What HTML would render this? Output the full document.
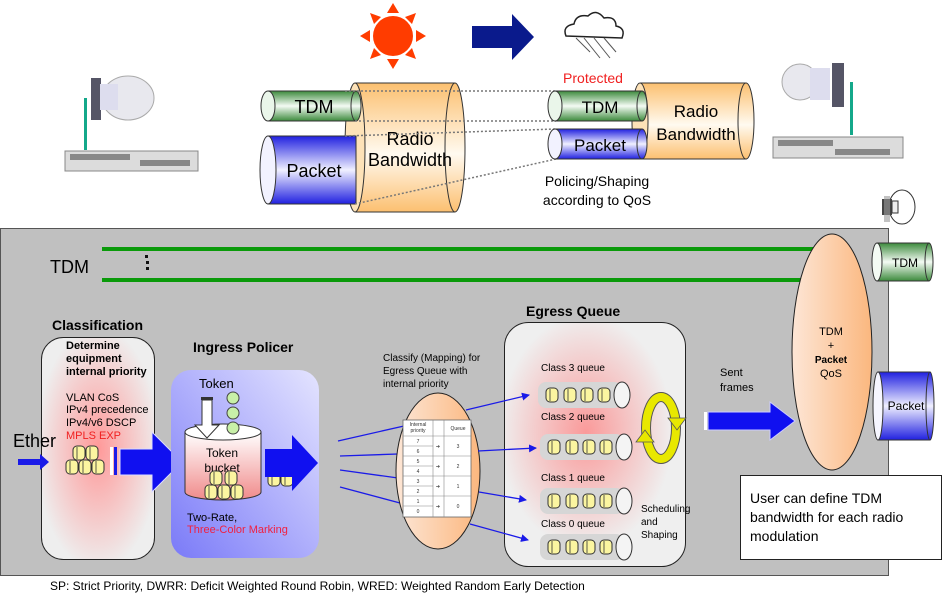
<!DOCTYPE html>
<html><head><meta charset="utf-8"><style>
html,body{margin:0;padding:0;background:#fff;}
svg{display:block;font-family:"Liberation Sans",Arial,sans-serif;}
</style></head><body>
<svg width="944" height="602" viewBox="0 0 944 602" xmlns="http://www.w3.org/2000/svg">
<defs>
<linearGradient id="gG" x1="0" y1="0" x2="0" y2="1"><stop offset="0" stop-color="#3c8a3c"/><stop offset="0.5" stop-color="#f4fbf4"/><stop offset="1" stop-color="#3c8a3c"/></linearGradient>
<linearGradient id="gB" x1="0" y1="0" x2="0" y2="1"><stop offset="0" stop-color="#2020e0"/><stop offset="0.5" stop-color="#f0f0ff"/><stop offset="1" stop-color="#2020e0"/></linearGradient>
<linearGradient id="gO" x1="0" y1="0" x2="0" y2="1"><stop offset="0" stop-color="#fcc070"/><stop offset="0.55" stop-color="#fffaf0"/><stop offset="1" stop-color="#fcc070"/></linearGradient>
<linearGradient id="gOh" x1="0" y1="0" x2="1" y2="0"><stop offset="0" stop-color="#fde6d6"/><stop offset="1" stop-color="#fbb77e"/></linearGradient>
<radialGradient id="gR" cx="0.5" cy="0.5" r="0.55"><stop offset="0" stop-color="#f99"/><stop offset="1" stop-color="#eee"/></radialGradient>
<radialGradient id="gR2" cx="0.45" cy="0.45" r="0.6"><stop offset="0" stop-color="#fa9a9a"/><stop offset="0.8" stop-color="#efefef"/></radialGradient>
<linearGradient id="gP" x1="0" y1="1" x2="1" y2="0"><stop offset="0" stop-color="#7a7af8"/><stop offset="1" stop-color="#e4e4ff"/></linearGradient>
<linearGradient id="gBk" x1="0" y1="0" x2="0" y2="1"><stop offset="0" stop-color="#fff"/><stop offset="1" stop-color="#f08a8a"/></linearGradient>
<g id="pkt"><rect x="0" y="0" width="12" height="14" rx="4" fill="#fbf5a0" stroke="#333" stroke-width="1"/><line x1="4" y1="1" x2="4" y2="13" stroke="#333" stroke-width="0.8"/></g>
<g id="q"><rect x="0" y="-13" width="84" height="26" rx="8" fill="#d6d6d6"/><use href="#pkt" x="8" y="-7"/><use href="#pkt" x="26" y="-7"/><use href="#pkt" x="43" y="-7"/><use href="#pkt" x="60" y="-7"/><ellipse cx="84" cy="0" rx="8" ry="13" fill="#f4f4f4" stroke="#333"/></g>
<marker id="ah" markerWidth="8" markerHeight="8" refX="7" refY="4" orient="auto" markerUnits="userSpaceOnUse"><path d="M0,0 L8,4 L0,8 z" fill="#1a1ae8"/></marker>
</defs>

<g fill="#ff3c00">
<circle cx="393" cy="36" r="20"/>
<path d="M393,3 l-6,10 h12z M393,69 l-6,-10 h12z M360,36 l10,-6 v12z M426,36 l-10,-6 v12z M370,13 l4,11 l7,-7z M416,13 l-4,11 l-7,-7z M370,59 l4,-11 l7,7z M416,59 l-4,-11 l-7,7z"/>
</g>
<path d="M472,26 h40 v-12 l22,23 l-22,23 v-12 h-40z" fill="#0a1a8c"/>
<path d="M566,36 q-4,-10 8,-12 q2,-10 14,-8 q8,-8 16,2 q12,-2 12,8 q10,2 6,12 z" fill="#fff" stroke="#222" stroke-width="1.5"/>
<g stroke="#555" stroke-width="1"><line x1="576" y1="38" x2="590" y2="52"/><line x1="584" y1="38" x2="600" y2="58"/><line x1="594" y1="38" x2="610" y2="58"/><line x1="604" y1="38" x2="616" y2="52"/></g>

<ellipse cx="128" cy="98" rx="26" ry="22" fill="#e8e8ee" stroke="#aaa"/>
<rect x="91" y="78" width="10" height="42" fill="#556"/>
<rect x="100" y="84" width="18" height="26" fill="#dde"/>
<rect x="84" y="98" width="3" height="52" fill="#14a88a"/>
<rect x="65" y="151" width="133" height="20" fill="#dcdcdc" stroke="#888"/>
<rect x="70" y="154" width="60" height="6" fill="#333" opacity="0.5"/><rect x="140" y="160" width="50" height="6" fill="#333" opacity="0.5"/>
<ellipse cx="800" cy="82" rx="18" ry="18" fill="#e8e8ee" stroke="#aaa"/>
<rect x="810" y="68" width="20" height="32" fill="#dde"/>
<rect x="832" y="63" width="12" height="44" fill="#556"/>
<rect x="850" y="82" width="3" height="53" fill="#14a88a"/>
<rect x="773" y="137" width="130" height="21" fill="#dcdcdc" stroke="#888"/>
<rect x="778" y="140" width="55" height="6" fill="#333" opacity="0.5"/><rect x="835" y="149" width="55" height="6" fill="#333" opacity="0.5"/>

<rect x="355" y="83" width="100" height="129" fill="url(#gO)"/>
<ellipse cx="455" cy="147.5" rx="10" ry="64.5" fill="url(#gO)" stroke="#333"/>
<line x1="355" y1="83" x2="455" y2="83" stroke="#333"/><line x1="355" y1="212" x2="455" y2="212" stroke="#333"/>
<ellipse cx="355" cy="147.5" rx="10" ry="64.5" fill="#fde2b8" stroke="#333"/>
<text x="410" y="145" font-size="18" text-anchor="middle">Radio</text>
<text x="410" y="166" font-size="18" text-anchor="middle">Bandwidth</text>
<rect x="268" y="91" width="88" height="30" fill="url(#gG)" stroke="#333"/>
<ellipse cx="356" cy="106" rx="5" ry="15" fill="url(#gG)" stroke="#333"/>
<ellipse cx="268" cy="106" rx="7" ry="15" fill="#eaf6ea" stroke="#333"/>
<text x="314" y="113" font-size="18" text-anchor="middle">TDM</text>
<rect x="268" y="136" width="88" height="68" fill="url(#gB)" stroke="#333"/>
<ellipse cx="268" cy="170" rx="8" ry="34" fill="#f2f2ff" stroke="#333"/>
<text x="314" y="177" font-size="18" text-anchor="middle">Packet</text>
<g stroke="#777" stroke-width="1.5" stroke-dasharray="2,2" fill="none">
<line x1="345" y1="91" x2="556" y2="91"/><line x1="355" y1="121" x2="556" y2="121"/>
<line x1="345" y1="136" x2="556" y2="129"/><line x1="355" y1="204" x2="556" y2="159"/>
</g>
<text x="593" y="83" font-size="14" fill="#f02020" text-anchor="middle">Protected</text>
<rect x="640" y="83" width="106" height="76" fill="url(#gO)"/>
<ellipse cx="746" cy="121" rx="8" ry="38" fill="url(#gO)" stroke="#333"/>
<line x1="640" y1="83" x2="746" y2="83" stroke="#333"/><line x1="640" y1="159" x2="746" y2="159" stroke="#333"/>
<ellipse cx="640" cy="121" rx="8" ry="38" fill="#fde2b8" stroke="#333"/>
<text x="696" y="117" font-size="17" text-anchor="middle">Radio</text>
<text x="696" y="140" font-size="17" text-anchor="middle">Bandwidth</text>
<rect x="555" y="91" width="87" height="30" fill="url(#gG)" stroke="#333"/>
<ellipse cx="642" cy="106" rx="5" ry="15" fill="url(#gG)" stroke="#333"/>
<ellipse cx="555" cy="106" rx="7" ry="15" fill="#eaf6ea" stroke="#333"/>
<text x="600" y="113" font-size="17" text-anchor="middle">TDM</text>
<rect x="555" y="129" width="87" height="30" fill="url(#gB)" stroke="#333"/>
<ellipse cx="642" cy="144" rx="5" ry="15" fill="url(#gB)" stroke="#333"/>
<ellipse cx="555" cy="144" rx="7" ry="15" fill="#f2f2ff" stroke="#333"/>
<text x="600" y="151" font-size="17" text-anchor="middle">Packet</text>
<text x="597" y="186" font-size="14" text-anchor="middle">Policing/Shaping</text>
<text x="597" y="205" font-size="14" text-anchor="middle">according to QoS</text>

<ellipse cx="902" cy="207" rx="13" ry="17" fill="#fff" stroke="#333"/>
<rect x="882" y="199" width="10" height="16" fill="#444"/><rect x="884" y="196" width="6" height="26" fill="#999" opacity="0.6"/>
<rect x="892" y="201" width="6" height="12" fill="#eee" stroke="#333"/>

<rect x="0.5" y="228.5" width="888" height="347" fill="#c0c0c0" stroke="#555"/>
<line x1="102" y1="249" x2="815" y2="249" stroke="#0a9a0a" stroke-width="4"/>
<line x1="102" y1="280" x2="815" y2="280" stroke="#0a9a0a" stroke-width="4"/>
<text x="50" y="273" font-size="18">TDM</text>
<g fill="#111"><rect x="145" y="255" width="3" height="3"/><rect x="146" y="261" width="3" height="3"/><rect x="146" y="267" width="3" height="3"/></g>

<text x="52" y="330" font-size="14" font-weight="bold">Classification</text>
<rect x="41.5" y="337.5" width="113" height="222" rx="22" fill="url(#gR)" stroke="#222"/>
<g font-size="11" font-weight="bold"><text x="66" y="349">Determine</text><text x="66" y="362">equipment</text><text x="66" y="375">internal priority</text></g>
<g font-size="11"><text x="66" y="401">VLAN CoS</text><text x="66" y="413">IPv4 precedence</text><text x="66" y="426">IPv4/v6 DSCP</text><text x="66" y="439" fill="#f02020">MPLS EXP</text></g>
<text x="13" y="447" font-size="18">Ether</text>
<path d="M18,459 h22 v-5 l9,8 l-9,8 v-5 h-22z" fill="#1a1ae8"/>
<use href="#pkt" x="73" y="446"/><use href="#pkt" x="86" y="446"/>
<use href="#pkt" x="66" y="460"/><use href="#pkt" x="79" y="460"/><use href="#pkt" x="92" y="460"/>
<rect x="110" y="447" width="3" height="28" fill="#fff"/><rect x="114" y="447" width="3" height="28" fill="#1a1ae8"/>
<path d="M120,449 h32 v-17 l30,30 l-30,30 v-17 h-32z" fill="#1010f0" stroke="#ddf" stroke-width="1"/>

<text x="193" y="352" font-size="14" font-weight="bold">Ingress Policer</text>
<rect x="171" y="370" width="148" height="188" rx="20" fill="url(#gP)"/>
<text x="199" y="388" font-size="13">Token</text>
<circle cx="233" cy="398" r="6" fill="#c8f0a8" stroke="#444"/><circle cx="233" cy="413" r="6" fill="#c8f0a8" stroke="#444"/>
<path d="M185,432 v60 a38,8 0 0 0 76,0 v-60z" fill="url(#gBk)" stroke="#333"/>
<ellipse cx="223" cy="432" rx="38" ry="8" fill="#fff" stroke="#333"/>
<rect x="201" y="397" width="12" height="3" fill="#333"/>
<path d="M202,400 h10 v25 h7 l-12,13 l-12,-13 h7z" fill="#fff" stroke="#333"/>
<circle cx="233" cy="428" r="6" fill="#c8f0a8" stroke="#444"/>
<text x="222" y="457" font-size="12" text-anchor="middle">Token</text>
<text x="222" y="472" font-size="12" text-anchor="middle">bucket</text>
<use href="#pkt" x="210" y="471"/><use href="#pkt" x="225" y="471"/>
<use href="#pkt" x="205" y="485"/><use href="#pkt" x="218" y="485"/><use href="#pkt" x="231" y="485"/>
<use href="#pkt" x="268" y="472"/><use href="#pkt" x="281" y="472"/>
<path d="M265,449 h27 v-14 l26,28 l-26,28 v-14 h-27z" fill="#1010f0"/>
<text x="187" y="521" font-size="11">Two-Rate,</text>
<text x="187" y="533" font-size="11" fill="#f02040">Three-Color Marking</text>

<text x="383" y="361" font-size="10">Classify (Mapping) for</text>
<text x="383" y="374" font-size="10">Egress Queue with</text>
<text x="383" y="387" font-size="10">internal priority</text>
<g stroke="#1a1ae8" stroke-width="1.3">
<line x1="338" y1="441" x2="404" y2="426"/><line x1="340" y1="456" x2="398" y2="454"/><line x1="340" y1="470" x2="398" y2="478"/><line x1="340" y1="487" x2="400" y2="503"/>
</g>

<text x="526" y="316" font-size="14" font-weight="bold">Egress Queue</text>
<rect x="504.5" y="322.5" width="181" height="244" rx="24" fill="url(#gR2)" stroke="#222"/>
<g font-size="10"><text x="541" y="371">Class 3 queue</text><text x="541" y="420">Class 2 queue</text><text x="541" y="481">Class 1 queue</text><text x="541" y="527">Class 0 queue</text></g>
<use href="#q" x="538" y="395"/><use href="#q" x="540" y="447"/><use href="#q" x="540" y="501"/><use href="#q" x="540" y="547"/>
<ellipse cx="661" cy="428" rx="15" ry="31" fill="none" stroke="#555" stroke-width="10"/>
<ellipse cx="661" cy="428" rx="15" ry="31" fill="none" stroke="#e8e800" stroke-width="8"/>
<rect x="669" y="413" width="14" height="10" fill="#c0c0c0" opacity="0"/>
<path d="M668,418 h18 l-9,12z" fill="#e8e800" stroke="#555" stroke-width="0.8"/>
<path d="M636,442 h18 l-9,-12z" fill="#e8e800" stroke="#555" stroke-width="0.8"/>
<g font-size="10"><text x="641" y="512">Scheduling</text><text x="641" y="525">and</text><text x="641" y="538">Shaping</text></g>

<ellipse cx="438" cy="471" rx="42" ry="78" fill="url(#gOh)" stroke="#222"/>
<g stroke="#1a1ae8" stroke-width="1.3" marker-end="url(#ah)">
<line x1="466" y1="410" x2="529" y2="395"/><line x1="478" y1="451" x2="536" y2="448"/><line x1="479" y1="492" x2="526" y2="500"/><line x1="470" y1="524" x2="528" y2="540"/>
</g>
<rect x="403" y="420" width="68" height="97" stroke="#666" stroke-width="0.8" fill="#fff"/>
<g stroke="#888" stroke-width="0.6">
<line x1="433" y1="420" x2="433" y2="517"/><line x1="444" y1="420" x2="444" y2="517"/>
<line x1="403" y1="436" x2="471" y2="436"/><line x1="403" y1="456" x2="471" y2="456"/><line x1="403" y1="476" x2="471" y2="476"/><line x1="403" y1="496" x2="471" y2="496"/>
<line x1="403" y1="446" x2="433" y2="446"/><line x1="403" y1="466" x2="433" y2="466"/><line x1="403" y1="486" x2="433" y2="486"/><line x1="403" y1="506" x2="433" y2="506"/>
</g>
<g font-size="5" text-anchor="middle" fill="#333">
<text x="418" y="426">Internal</text><text x="418" y="432">priority</text><text x="458" y="430">Queue</text>
<text x="418" y="443">7</text><text x="418" y="453">6</text><text x="418" y="463">5</text><text x="418" y="473">4</text><text x="418" y="483">3</text><text x="418" y="493">2</text><text x="418" y="503">1</text><text x="418" y="513">0</text>
<text x="438" y="448">➔</text><text x="438" y="468">➔</text><text x="438" y="488">➔</text><text x="438" y="508">➔</text>
<text x="458" y="448">3</text><text x="458" y="468">2</text><text x="458" y="488">1</text><text x="458" y="508">0</text>
</g>

<text x="720" y="376" font-size="11">Sent</text><text x="720" y="391" font-size="11">frames</text>
<rect x="704" y="412" width="3" height="18" fill="#fff"/>
<path d="M708,412 h62 v-10 l25,19 l-25,19 v-10 h-62z" fill="#1010f0" stroke="#ccf" stroke-width="1"/>
<ellipse cx="832" cy="352" rx="40" ry="118" fill="url(#gOh)" stroke="#222"/>
<text x="831" y="335" font-size="11" text-anchor="middle">TDM</text>
<text x="831" y="349" font-size="11" text-anchor="middle">+</text>
<text x="831" y="363" font-size="10" font-weight="bold" text-anchor="middle">Packet</text>
<text x="831" y="377" font-size="11" text-anchor="middle">QoS</text>
<rect x="877" y="243" width="52" height="38" fill="url(#gG)" stroke="#333"/>
<ellipse cx="929" cy="262" rx="4" ry="19" fill="url(#gG)" stroke="#333"/>
<ellipse cx="877" cy="262" rx="5" ry="19" fill="#f4fbf4" stroke="#333"/>
<text x="905" y="267" font-size="12" text-anchor="middle">TDM</text>
<rect x="878" y="372" width="52" height="68" fill="url(#gB)" stroke="#333"/>
<ellipse cx="930" cy="406" rx="4" ry="34" fill="url(#gB)" stroke="#333"/>
<ellipse cx="878" cy="406" rx="5" ry="34" fill="#f6f6ff" stroke="#333"/>
<text x="906" y="410" font-size="12" text-anchor="middle">Packet</text>
<rect x="740.5" y="475.5" width="201" height="84" fill="#fff" stroke="#222"/>
<g font-size="14"><text x="750" y="503">User can define TDM</text><text x="750" y="522">bandwidth for each radio</text><text x="750" y="541">modulation</text></g>

<text x="50" y="590" font-size="12">SP: Strict Priority, DWRR:  Deficit Weighted Round Robin, WRED: Weighted Random Early Detection</text>
</svg>
</body></html>
